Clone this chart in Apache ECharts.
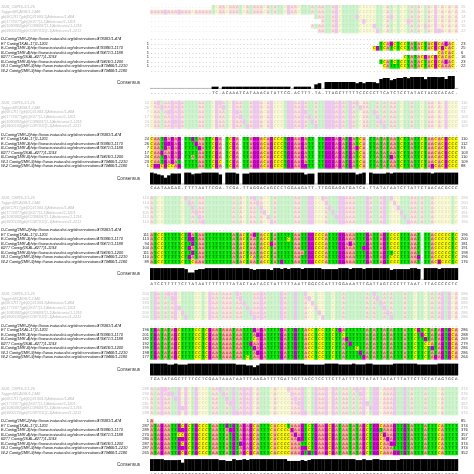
<!DOCTYPE html>
<html><head><meta charset="utf-8">
<script src="https://cdn.jsdelivr.net/npm/echarts@6/dist/echarts.min.js"></script>
<style>html,body{margin:0;padding:0;background:#fff}#c{width:474px;height:474px}</style>
</head><body><div id="c"></div>
<script>
// ---- data ----
const COLS = 90;
const consensus = [
  "------------------TC-ACAAATCATAAACATATTCG-ACTTT-TA-TTAGCTTTTTCCCCCTTCATCTCCTATACTACGCACAC",
  "CAATAAGAG-TTTTAATTCGA-TCGA-TTAGGACAGCCCTGGAAGATT-TTGGGAGATGATCA-TTATATAATCTTATTCTAACACGCCC",
  "ATCCTTTTTCTTATAATTTTTTTTATACTAATACCTATTTTTAATTGGCCCATTTGGAAATTTGATTAGTCCCTTTAAT-TTACCCCCTCC",
  "TGATATAGCTTTTCCTCGAATAAATAATTTAAGATTTTGATTGTTACCTCCTTCTTATTTTTTATATTATATTTATTCTTCTATAGTGCAA",
  "ATAGAATTGCGCTGCCCTAATTATGTAGAGCATTTCACCCCAAAGTCTGAAGCGATAATATAGCTGGCAAAGTTGTATTTATTTCATTTTTT"
];
const block1Tail = [0, 23, 25, 6, 16, 23, 22, 0];
const fadedBlock1Start = [18, 0, 48, 50, 47, 49];
const strongMut = [
  ["", "70:G 86:G", "66:G 67:T 85:G", "", "80:G", "70:T 86:G", "71:T 86:A", ""],
  ["", "4:G 12:G 30:G 52:G", "4:G 5:G 13:G 31:G", "4:G 14:G 35:G 60:G", "3:G 17:T 40:G", "4:G 12:A 53:G 70:G", "4:G 8:T 20:C 44:G", "1:G 2:G 3:C 4:G 5:C 6:C 45:G 82:G"],
  ["", "11:G 30:G 52:T", "11:G 12:G 40:C 60:T", "12:G 35:G 58:G", "11:G 33:C 62:G", "12:G 44:A 70:T", "11:G 29:C 78:G", "12:C 13:A 38:G 84:G"],
  ["", "30:G 55:G 78:G", "31:G 56:C 79:G", "30:C 57:G 80:G", "29:G 58:G 81:C", "30:G 60:C 82:G", "31:G 61:G", "28:C 62:G 83:G"],
  ["", "8:G 22:G 40:T 66:G", "9:G 23:G 41:G 67:T", "8:C 24:G 42:G 68:G", "9:G 25:T 43:G 69:G", "8:G 26:G 44:T 70:G", "9:G 27:G 45:G 71:T", "8:G 28:C 46:G 72:G"]
];
const fadedMut = [
  ["", "4:G 8:G 12:C", "60:G 70:G", "62:G 75:G", "65:G 80:G", "66:G 84:G"],
  ["2:G 20:G 40:G 60:G", "3:G 21:G 41:G 61:G", "5:G 25:G 45:G 65:G", "6:G 26:G 46:G 66:G", "7:G 27:G 47:G 67:G", "8:G 28:G 48:G 68:G"],
  ["10:G 30:G 50:G 70:G", "11:G 31:G 51:G 71:G", "12:G 32:G 52:G 72:G", "13:G 33:G 53:G 73:G", "14:G 34:G 54:G 74:G", "15:G 35:G 55:G 75:G"],
  ["5:G 25:G 45:G 65:G 85:G", "6:G 26:G 46:G 66:G", "7:G 27:G 47:G 67:G", "8:G 28:G 48:G 68:G", "9:G 29:G 49:G 69:G", "10:G 30:G 50:G 70:G"],
  ["3:G 4:G 20:G 40:G 60:G", "5:G 6:G 21:G 41:G 61:G", "7:G 22:G 42:G 62:G", "8:G 23:G 43:G 63:G", "9:G 24:G 44:G 64:G", "10:G 25:G 45:G 65:G"]
];
const strongStart = [
  [0, 1, 1, 1, 1, 1, 1, 0],
  [0, 24, 26, 7, 17, 24, 23, 1],
  [0, 111, 113, 94, 104, 111, 110, 89],
  [0, 196, 201, 182, 192, 199, 198, 177],
  [1, 287, 289, 270, 280, 287, 287, 265]
];
const strongEnd = [
  [0, 23, 25, 6, 16, 23, 22, 0],
  [0, 110, 112, 93, 103, 110, 109, 88],
  [0, 196, 200, 181, 191, 198, 196, 176],
  [0, 286, 288, 269, 279, 286, 286, 264],
  [85, 374, 376, 357, 367, 374, 374, 352]
];
const fadedEnd = [
  [25, 26, 14, 17, 15, 22],
  [110, 112, 93, 103, 110, 109],
  [196, 200, 181, 191, 198, 196],
  [286, 288, 269, 279, 286, 286],
  [374, 376, 357, 367, 374, 374]
];
const strongLabels = [
  "D-Contig(1MR-2)http://www.inaturalist.org/observations/478381/1-474",
  "E7 Contig(1KAL-17)1-1201",
  "E-Contig(1MR-3)http://www.inaturalist.org/observations/478386/1-1170",
  "B-Contig(1MR-4)http://www.inaturalist.org/observations/478471/1-1188",
  "B277 Contig(1KAL-4277)1-1193",
  "B-Contig(1MR-6)http://www.inaturalist.org/observations/479416/1-1200",
  "W-1 Contig(1MR-9)http://www.inaturalist.org/observations/479466/1-1210",
  "W-2 Contig(1MR-9)http://www.inaturalist.org/observations/479466/1-1180"
];
const fadedLabels = [
  "1026_CMRS-1/1-25",
  "Tagged|8CAGS/1-1346",
  "gb|5KCR17|gb|DQ21993.1|Arbitrania/1-464",
  "gb|1772077|gb|QK077|1-1|Arbitrania/1-1201",
  "gb|1080082|gb|KC086097|1-1|Arbitrania/1-1216",
  "gb|9900120|gb|KC087011|1-1|Arbitrania/1-1211"
];

// ---- build ----
function applyMut(s, m) {
  const a = s.split('');
  m.split(' ').filter(Boolean).forEach(t => { const [c, ch] = t.split(':'); a[+c] = ch; });
  return a.join('');
}
const cons = consensus.map(s => s.padEnd(COLS, '-').slice(0, COLS));
const PITCH = 95.5;
const LET = ['A', 'C', 'G', 'T', '-'];
const cells = [], bars = [], consTxt = [];
cons.forEach((cs, b) => {
  const base = b * PITCH;
  const sr = [], fr = [];
  for (let r = 0; r < 8; r++) {
    let s = cs;
    if (r === 0) s = b === 4 ? cs.slice(0, 1) + '-'.repeat(COLS - 1) : '-'.repeat(COLS);
    else s = applyMut(s, strongMut[b][r]);
    if (b === 0) s = '-'.repeat(COLS - block1Tail[r]) + s.slice(COLS - block1Tail[r]);
    sr.push(s);
  }
  for (let r = 0; r < 6; r++) {
    let s = applyMut(cs.replace(/-/g, 'A'), fadedMut[b][r]);
    if (b === 0) s = '-'.repeat(fadedBlock1Start[r]) + s.slice(fadedBlock1Start[r]);
    fr.push(s);
  }
  fr.forEach((s, r) => { for (let c = 0; c < COLS; c++) cells.push([c, base + 5 + r * 4.7, 0, LET.indexOf(s[c]), 4.7]); });
  sr.forEach((s, r) => { for (let c = 0; c < COLS; c++) cells.push([c, base + 37 + r * 4.5, 1, LET.indexOf(s[c]), 4.5]); });
  for (let c = 0; c < COLS; c++) {
    let ms = 0, mf = 0;
    for (let r = 1; r < 8; r++) if (sr[r][c] === cs[c] && cs[c] !== '-') ms++;
    for (let r = 0; r < 6; r++) if (fr[r][c] === cs[c]) mf++;
    const h = cs[c] === '-' ? 0.08 : Math.max(0.15, ms / 7 * 0.5 + mf / 6 * 0.5) * (b === 0 ? 1 : 0.85) ;
    bars.push([c, base + 89, h, cs[c] === '-' ? 1 : 0]);
    consTxt.push([c, base + 93, LET.indexOf(cs[c])]);
  }
});

const BG = { A: '#f2aaa3', C: '#f7f700', G: '#e000e0', T: '#00e600' };
const FBG = { A: '#f7e3e0', C: '#fafad0', G: '#f4c6f4', T: '#c9f5c9' };

const graphics = [];
cons.forEach((cs, b) => {
  const base = b * PITCH;
  fadedLabels.forEach((t, r) => graphics.push({ type: 'text', x: 1, y: base + 5 + r * 4.7 + 2.35, style: { text: t, font: 'italic 3.8px "Liberation Sans"', fill: '#b8b8b8', verticalAlign: 'middle' } }));
  strongLabels.forEach((t, r) => graphics.push({ type: 'text', x: 1, y: base + 37 + r * 4.5 + 2.25, style: { text: t, font: 'italic 3.9px "Liberation Sans"', fill: '#111', verticalAlign: 'middle' } }));
  graphics.push({ type: 'text', x: 140, y: base + 83, style: { text: 'Consensus', font: '4.6px "Liberation Sans"', fill: '#333', align: 'right', verticalAlign: 'middle' } });
  fadedEnd[b].forEach((n, r) => {
    graphics.push({ type: 'text', x: 461, y: base + 5 + r * 4.7 + 2.35, style: { text: String(n), font: '4px "Liberation Sans"', fill: '#c0c0c0', verticalAlign: 'middle' } });
    if (b > 0) graphics.push({ type: 'text', x: 149, y: base + 5 + r * 4.7 + 2.35, style: { text: String(n - 86), font: '4px "Liberation Sans"', fill: '#c0c0c0', align: 'right', verticalAlign: 'middle' } });
  });
  strongEnd[b].forEach((n, r) => {
    if (n > 0 && (b > 0 || r > 0)) graphics.push({ type: 'text', x: 461, y: base + 37 + r * 4.5 + 2.25, style: { text: String(n), font: '4px "Liberation Sans"', fill: '#222', verticalAlign: 'middle' } });
    const st = strongStart[b][r];
    if (st > 0) graphics.push({ type: 'text', x: 149, y: base + 37 + r * 4.5 + 2.25, style: { text: String(st), font: '4px "Liberation Sans"', fill: '#222', align: 'right', verticalAlign: 'middle' } });
  });
});

const chart = echarts.init(document.getElementById('c'));
chart.setOption({
  animation: false,
  grid: { left: 150, top: 0, width: 308, height: 474 },
  xAxis: { type: 'value', min: 0, max: COLS, show: false },
  yAxis: { type: 'value', min: 0, max: 474, inverse: true, show: false },
  graphic: graphics,
  series: [
    {
      type: 'custom', data: cells, clip: false, progressive: 0, large: false,
      renderItem(params, api) {
        const c = api.value(0), y = api.value(1), kind = api.value(2), li = api.value(3), rh = api.value(4);
        const p = api.coord([c, y]); const p2 = api.coord([c + 1, y + rh]);
        const w = p2[0] - p[0], h = p2[1] - p[1];
        const ch = LET[li];
        if (ch === '-') return { type: 'text', x: p[0] + w / 2, y: p[1] + h / 2, style: { text: '-', font: '3.5px "DejaVu Sans"', fill: kind ? '#555' : '#bbb', align: 'center', verticalAlign: 'middle' } };
        return { type: 'group', children: [
          { type: 'rect', shape: { x: p[0], y: p[1], width: w + 0.2, height: h + 0.2 }, style: { fill: kind ? BG[ch] : FBG[ch] } },
          { type: 'text', x: p[0] + w / 2, y: p[1] + h / 2, style: { text: ch, font: '3.6px "DejaVu Sans"', fill: kind ? (ch === 'A' ? '#a00' : '#222') : (ch === 'A' ? '#e0a0a0' : '#ccc'), align: 'center', verticalAlign: 'middle' } }
        ] };
      }
    },
    {
      type: 'custom', data: bars, clip: false,
      renderItem(params, api) {
        const c = api.value(0), y = api.value(1), hv = api.value(2), g = api.value(3);
        const p = api.coord([c, y - hv * 14]); const p2 = api.coord([c + 1, y]);
        return { type: 'rect', shape: { x: p[0], y: p[1], width: p2[0] - p[0] + 0.2, height: p2[1] - p[1] }, style: { fill: g ? '#bbb' : '#000' } };
      }
    },
    {
      type: 'custom', data: consTxt, clip: false,
      renderItem(params, api) {
        const c = api.value(0), y = api.value(1), li = api.value(2);
        const p = api.coord([c + 0.5, y]);
        return { type: 'text', x: p[0], y: p[1], style: { text: LET[li], font: '3.6px "DejaVu Sans"', fill: '#111', align: 'center', verticalAlign: 'middle' } };
      }
    }
  ]
});
</script></body></html>
